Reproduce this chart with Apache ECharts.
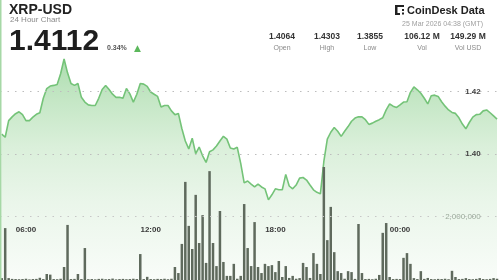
<!DOCTYPE html>
<html><head><meta charset="utf-8">
<script src="https://cdn.jsdelivr.net/npm/echarts@6/dist/echarts.min.js"></script>
<style>html,body{margin:0;padding:0;background:#fff}#c{width:500px;height:280px}</style>
</head><body><div id="c"></div>
<script>
// 10-minute buckets starting 04:50 (24 Mar) through 04:40 (25 Mar)
const startMinute = 4 * 60 + 50;
const categories = [];
for (let i = 0; i < 144; i++) {
  const m = (startMinute + i * 10) % 1440;
  categories.push(String(Math.floor(m / 60)).padStart(2, '0') + ':' + String(m % 60).padStart(2, '0'));
}
const timeTickLabels = ['06:00', '12:00', '18:00', '00:00'];
const priceTickLabels = [1.40, 1.42];
const volumeTickLabels = [2000000];

const priceValues = [
  1.4064, 1.4054, 1.4107, 1.4119, 1.4129, 1.4135, 1.4126, 1.4107, 1.4107, 1.4118,
  1.4127, 1.4132, 1.4178, 1.4209, 1.4217, 1.4219, 1.4222, 1.4256, 1.4303, 1.4259,
  1.4225, 1.4219, 1.4225, 1.4181, 1.4166, 1.4157, 1.4155, 1.4155, 1.4178, 1.4206,
  1.4219, 1.4206, 1.4191, 1.4181, 1.4181, 1.4178, 1.4209, 1.4192, 1.4166, 1.4191,
  1.4225, 1.4223, 1.4216, 1.4198, 1.4191, 1.4184, 1.4150, 1.4155, 1.4155, 1.4138,
  1.4126, 1.4130, 1.4082, 1.4042, 1.4017, 1.4051, 1.4002, 1.4023, 1.3995, 1.3974,
  1.4008, 1.4014, 1.4026, 1.4042, 1.4057, 1.4048, 1.4020, 1.4017, 1.4022, 1.3971,
  1.3909, 1.3915, 1.3905, 1.3896, 1.3905, 1.3896, 1.3890, 1.3855, 1.3871, 1.3890,
  1.3887, 1.3887, 1.3936, 1.3899, 1.3890, 1.3902, 1.3924, 1.3926, 1.3918, 1.3902,
  1.3887, 1.3879, 1.3874, 1.3977, 1.4048, 1.4070, 1.4085, 1.4073, 1.4057, 1.4073,
  1.4088, 1.4105, 1.4115, 1.4119, 1.4119, 1.4110, 1.4095, 1.4099, 1.4105, 1.4110,
  1.4116, 1.4141, 1.4160, 1.4153, 1.4149, 1.4157, 1.4166, 1.4167, 1.4197, 1.4214,
  1.4205, 1.4194, 1.4178, 1.4160, 1.4186, 1.4188, 1.4184, 1.4167, 1.4153, 1.4141,
  1.4133, 1.4130, 1.4116, 1.4096, 1.4081, 1.4101, 1.4118, 1.4126, 1.4127, 1.4138,
  1.4141, 1.4132, 1.4122, 1.4112
];

const volumeValues = [
  60000, 1640000, 60000, 35000, 30000, 25000, 30000, 40000, 20000, 30000,
  35000, 70000, 30000, 190000, 170000, 30000, 25000, 40000, 410000, 1740000,
  30000, 35000, 190000, 30000, 1010000, 25000, 30000, 20000, 35000, 40000,
  25000, 30000, 45000, 20000, 30000, 35000, 25000, 30000, 40000, 30000,
  820000, 30000, 100000, 30000, 25000, 35000, 30000, 40000, 25000, 40000,
  410000, 220000, 1140000, 3100000, 1710000, 980000, 2690000, 1170000, 2050000, 540000,
  3440000, 1170000, 440000, 2180000, 570000, 130000, 130000, 510000, 40000, 130000,
  2400000, 1010000, 440000, 1830000, 410000, 220000, 510000, 440000, 470000, 250000,
  600000, 95000, 440000, 65000, 130000, 40000, 60000, 540000, 410000, 65000,
  850000, 510000, 190000, 3570000, 1260000, 2310000, 880000, 280000, 220000, 40000,
  280000, 250000, 35000, 1770000, 220000, 30000, 35000, 25000, 40000, 160000,
  1490000, 1800000, 95000, 30000, 35000, 30000, 700000, 850000, 510000, 60000,
  30000, 280000, 35000, 65000, 30000, 25000, 35000, 30000, 40000, 25000,
  290000, 95000, 30000, 35000, 60000, 30000, 25000, 35000, 60000, 30000,
  25000, 35000, 60000, 40000
];

const headerStats = [
  { value: '1.4064', label: 'Open' },
  { value: '1.4303', label: 'High' },
  { value: '1.3855', label: 'Low' },
  { value: '106.12 M', label: 'Vol' },
  { value: '149.29 M', label: 'Vol USD' }
];

const FONT = 'Liberation Sans, Arial, sans-serif';
const chart = echarts.init(document.getElementById('c'), null, { renderer: 'canvas' });

const statCenters = [282, 327, 370, 422, 468];
const graphics = [
  { type: 'rect', shape: { x: 0, y: 0, width: 1.5, height: 280 }, style: { fill: '#a6d8a6' }, z: 10 },
  { type: 'text', x: 9, y: 10, style: { text: 'XRP-USD', font: 'bold 14px ' + FONT, fill: '#222', verticalAlign: 'middle' } },
  { type: 'text', x: 10, y: 20, style: { text: '24 Hour Chart', font: '8px ' + FONT, fill: '#8a8a8a', verticalAlign: 'middle' } },
  { type: 'text', x: 9, y: 42, style: { text: '1.4112', font: 'bold 30px ' + FONT, fill: '#1e1e1e', verticalAlign: 'middle' } },
  { type: 'text', x: 107, y: 48.5, style: { text: '0.34%', font: 'bold 7px ' + FONT, fill: '#555', verticalAlign: 'middle' } },
  { type: 'text', x: 137.5, y: 49, style: { text: '▲', font: '9px DejaVu Sans', fill: '#5cb85c', align: 'center', verticalAlign: 'middle' } },
  // logo mark
  { type: 'rect', shape: { x: 395, y: 5, width: 2.5, height: 10 }, style: { fill: '#222' } },
  { type: 'rect', shape: { x: 395, y: 5, width: 9, height: 2 }, style: { fill: '#222' } },
  { type: 'rect', shape: { x: 395, y: 13, width: 5, height: 2 }, style: { fill: '#222' } },
  { type: 'rect', shape: { x: 402, y: 9, width: 2, height: 2 }, style: { fill: '#222' } },
  { type: 'rect', shape: { x: 402, y: 12.5, width: 2, height: 2 }, style: { fill: '#222' } },
  { type: 'text', x: 407, y: 10.5, style: { text: 'CoinDesk Data', font: 'bold 11px ' + FONT, fill: '#222', verticalAlign: 'middle' } },
  { type: 'text', x: 483, y: 24.5, style: { text: '25 Mar 2026 04:38 (GMT)', font: '7px ' + FONT, fill: '#a0a0a0', align: 'right', verticalAlign: 'middle' } }
];
headerStats.forEach((s, i) => {
  graphics.push({ type: 'text', x: statCenters[i], y: 37, style: { text: s.value, font: 'bold 8.5px ' + FONT, fill: '#333', align: 'center', verticalAlign: 'middle' } });
  graphics.push({ type: 'text', x: statCenters[i], y: 48, style: { text: s.label, font: '7px ' + FONT, fill: '#8a8a8a', align: 'center', verticalAlign: 'middle' } });
});

const dotted = { color: '#bdbdbd', width: 1, type: [1.5, 6] };

chart.setOption({
  animation: false,
  backgroundColor: '#fff',
  graphic: graphics,
  grid: [
    { left: -1.74, width: 500.5, top: 28.5, height: 258 },
    { left: -1.74, width: 500.5, top: 153.4, height: 126.6 }
  ],
  xAxis: [
    { type: 'category', gridIndex: 0, data: categories, boundaryGap: true,
      axisLine: { show: false }, axisTick: { show: false }, axisLabel: { show: false }, splitLine: { show: false } },
    { type: 'category', gridIndex: 1, data: categories, boundaryGap: true, z: 6,
      axisLine: { show: false }, axisTick: { show: false }, splitLine: { show: false },
      axisLabel: { show: true, inside: true, margin: 46, interval: (idx, val) => timeTickLabels.includes(val),
        color: '#3a3a3a', fontWeight: 'bold', fontSize: 8, fontFamily: FONT } }
  ],
  yAxis: [
    { type: 'value', gridIndex: 0, min: 1.36, max: 1.44, interval: 0.02, position: 'right', z: 6,
      axisLine: { show: false }, axisTick: { show: false },
      splitLine: { show: true, lineStyle: Object.assign({}, dotted, { color: ['transparent', 'transparent', '#bdbdbd', '#bdbdbd', 'transparent'] }) },
      axisLabel: { inside: true, margin: 18, color: '#444', fontWeight: 'bold', fontSize: 8, fontFamily: FONT,
        formatter: v => priceTickLabels.some(t => Math.abs(t - v) < 1e-6) ? v.toFixed(2) : '' } },
    { type: 'value', gridIndex: 1, min: 0, max: 4000000, interval: 2000000, position: 'right', z: 6,
      axisLine: { show: false }, axisTick: { show: false },
      splitLine: { show: true, lineStyle: Object.assign({}, dotted, { color: ['transparent', '#c6c6c6', 'transparent'] }) },
      axisLabel: { inside: true, margin: 18, color: '#9aa89a', fontSize: 8, fontFamily: FONT,
        formatter: v => volumeTickLabels.includes(v) ? v.toLocaleString('en-US') : '' } }
  ],
  series: [
    { type: 'line', xAxisIndex: 0, yAxisIndex: 0, data: priceValues, symbol: 'none', z: 2,
      lineStyle: { color: '#74c378', width: 1.6 },
      areaStyle: { color: new echarts.graphic.LinearGradient(0, 0, 0, 1, [
        { offset: 0, color: '#8acf8d' },
        { offset: 0.18, color: '#abdcac' },
        { offset: 0.4, color: '#cbe9cb' },
        { offset: 0.65, color: '#e1f2e1' },
        { offset: 1, color: '#f6fbf6' }
      ]) } },
    { type: 'bar', xAxisIndex: 1, yAxisIndex: 1, data: volumeValues, barWidth: 2.5, z: 3,
      itemStyle: { color: '#5f6a5d' } }
  ]
});
</script></body></html>
